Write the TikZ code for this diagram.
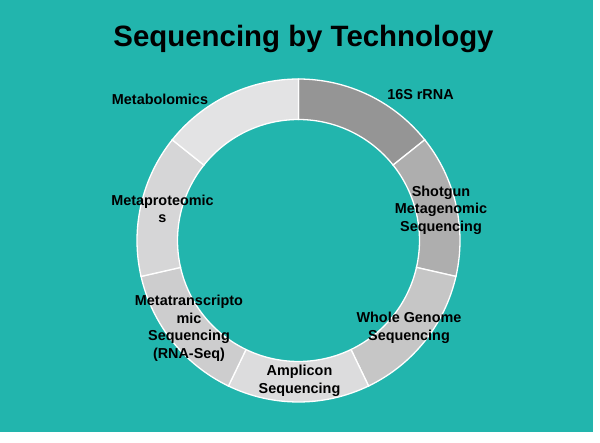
\documentclass[tikz,border=0pt]{standalone}
\usepackage{fontspec}
\setmainfont{Liberation Sans}
\usetikzlibrary{calc}
\definecolor{bgteal}{HTML}{22B5AD}
\definecolor{gsixteen}{HTML}{959595}
\definecolor{gshotgun}{HTML}{AEAEAE}
\definecolor{gwhole}{HTML}{C6C6C6}
\definecolor{gamplicon}{HTML}{DCDCDD}
\definecolor{gtranscr}{HTML}{CDCDCE}
\definecolor{gproteo}{HTML}{D6D6D7}
\definecolor{gmetabo}{HTML}{E3E3E4}
% one slice of the ring: start angle, end angle, colour
\newcommand{\ringseg}[3]{%
  \fill[#3, draw=white, line width=1.3pt] ($(ctr)+(#1:161.5)$) arc[start angle=#1, end angle=#2, radius=161.5]
    -- ($(ctr)+(#2:121)$) arc[start angle=#2, end angle=#1, radius=121] -- cycle;}

\begin{document}
\begin{tikzpicture}[x=1pt, y=-1pt,
  lab/.style={font=\bfseries\fontsize{14.4}{17.5}\selectfont, align=center, inner sep=0pt},
  ttl/.style={font=\bfseries\fontsize{29.4}{32}\selectfont, inner sep=0pt}
]
\useasboundingbox (0,0) rectangle (600,442);
\fill[white] (0,0) rectangle (600,442);
\fill[bgteal] (0,0) rectangle (593,432);
\coordinate (ctr) at (298.5,240.5);

\ringseg{-90}{-38.571}{gsixteen}
\ringseg{-38.571}{12.857}{gshotgun}
\ringseg{12.857}{64.286}{gwhole}
\ringseg{64.286}{115.714}{gamplicon}
\ringseg{115.714}{167.143}{gtranscr}
\ringseg{167.143}{218.571}{gproteo}
\ringseg{218.571}{270}{gmetabo}

\node[ttl, anchor=base] (title) at (303.5,46) {Sequencing by Technology};

\node[lab, anchor=base] (rrna) at (420.5,99.5) {16S rRNA};
\node[lab] (shotgun) at (441,210) {Shotgun\\Metagenomic\\Sequencing};
\node[lab] (whole) at (409,328) {Whole Genome\\Sequencing};
\node[lab] (amplicon) at (299.5,381) {Amplicon\\Sequencing};
\node[lab] (transcr) at (189,328.5) {Metatranscripto\\mic\\Sequencing\\(RNA-Seq)};
\node[lab] (proteo) at (162.5,209) {Metaproteomic\\s};
\node[lab, anchor=base] (metabo) at (160,104.5) {Metabolomics};
\end{tikzpicture}
\end{document}
